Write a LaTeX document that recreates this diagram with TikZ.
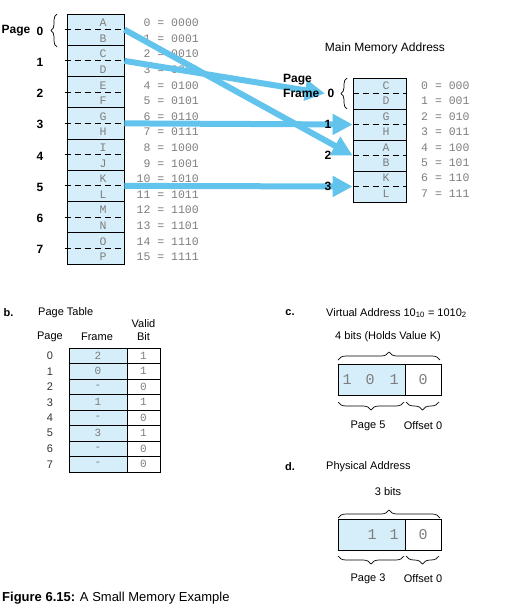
\documentclass[tikz,border=0pt]{standalone}
\usepackage{fontspec}
\setmainfont{Liberation Sans}
\setmonofont{Liberation Mono}
\usetikzlibrary{arrows.meta,decorations.pathreplacing}
\definecolor{memfill}{RGB}{214,238,250}
\definecolor{arrowblue}{RGB}{98,196,236}
\definecolor{addrgray}{RGB}{125,125,125}
\begin{document}
\begin{tikzpicture}[x=1pt,y=-1pt,
  every node/.style={inner sep=0pt},
  pagebox/.style={draw, line width=0.8pt, fill=memfill, minimum width=57pt, minimum height=31.25pt},
  framebox/.style={draw, line width=0.8pt, fill=memfill, minimum width=53pt, minimum height=31pt},
  halfline/.style={line width=0.8pt, dash pattern=on 6pt off 4pt},
  letter/.style={font=\fontsize{11.5}{12}\ttfamily, text=addrgray},
  addr/.style={font=\fontsize{11.5}{12}\ttfamily, text=addrgray, anchor=west},
  pagenum/.style={font=\fontsize{12}{14}\bfseries},
  label/.style={font=\fontsize{11}{13}\selectfont},
  part/.style={font=\fontsize{11}{13}\bfseries},
  maparrow/.style={draw=arrowblue, line width=6pt, -{Triangle[length=20pt,width=20pt]}},
  brace/.style={line width=0.7pt, decorate, decoration={brace, amplitude=#1}},
  cell/.style={draw, line width=0.8pt, minimum height=15.5pt, font=\fontsize{11}{12}\ttfamily, text=addrgray},
  bitbox/.style={draw, line width=0.8pt, minimum height=31pt},
  bit/.style={font=\fontsize{15}{16}\ttfamily, text=addrgray}]
  \useasboundingbox (0,0) rectangle (517,605);

  %% virtual memory, 8 pages of 2 words
  \foreach \i in {0,...,7} {
    \node[pagebox] (p\i) at (95.5,29.625+31.25*\i) {};
    \draw[halfline] ([xshift=-2pt]p\i.west) -- (p\i.east);
    \node[pagenum] (pn\i) at (40,31+31.25*\i) {\i};
  }
  \node[pagenum, anchor=east] (pagetxt) at ([xshift=-6pt]pn0.west) {Page};
  \draw[brace=6pt] (57,47) -- (57,14);

  \foreach \l [count=\k from 0] in {A,B,C,D,E,F,G,H,I,J,K,L,M,N,O,P}
    \node[letter] (v\k) at (103,23+15.6*\k) {\l};

  \foreach \n/\b in {0/0000,1/0001,2/0010,3/0011,4/0100,5/0101,6/0110,7/0111,
                     8/1000,9/1001,10/1010,11/1011,12/1100,13/1101,14/1110,15/1111}
    \node[addr] (va\n) at (136.5,23+15.6*\n) {\makebox[13.8pt][r]{\n} = \b};

  %% main memory, 4 frames
  \node[label, font=\fontsize{12}{14}\selectfont] (mmtitle) at (385,48) {Main Memory Address};
  \foreach \i in {0,...,3} {
    \node[framebox] (f\i) at (379.5,93.5+31*\i) {};
    \draw[halfline] (f\i.west) -- (f\i.east);
  }
  \foreach \l [count=\k from 0] in {C,D,G,H,A,B,K,L}
    \node[letter] (m\k) at (386,85.5+15.45*\k) {\l};
  \foreach \n/\b in {0/000,1/001,2/010,3/011,4/100,5/101,6/110,7/111}
    \node[addr] (ma\n) at (421,85.5+15.45*\n) {\n{} = \b};

  %% mapping arrows
  \coordinate (f0in) at (325,93.5);
  \draw[maparrow] (p0.east) -- (f2.west);
  \draw[maparrow] (p1.east) -- (f0in);
  \draw[maparrow] (p3.east) -- (f1.west);
  \draw[maparrow] (p5.east) -- (f3.west);

  \node[pagenum, anchor=west] (pf1) at (283,80) {Page};
  \node[pagenum, anchor=west] (pf2) at (283,93.5) {Frame};
  \node[pagenum] (fn0) at (331,93.5) {0};
  \draw[brace=6pt] (347,109) -- (347,78);
  \node[pagenum] (fn1) at (328,124.5) {1};
  \node[pagenum] (fn2) at (328,155.5) {2};
  \node[pagenum] (fn3) at (328,186.5) {3};

  %% b. page table
  \node[part] (lb) at (8.5,313) {b.};
  \node[label, anchor=west] (pttitle) at (38,313) {Page Table};
  \node[label] (hpage) at (50,337) {Page};
  \node[label] (hframe) at (97,337) {Frame};
  \node[label] (hvalid) at (143.5,324) {Valid};
  \node[label] (hbit) at (143.5,336.5) {Bit};
  \foreach \f/\v [count=\k from 0] in {2/1,0/1,-/0,1/1,-/0,3/1,-/0,-/0} {
    \node[cell, fill=memfill, minimum width=58pt] (fr\k) at (98,355.75+15.5*\k) {\f};
    \node[cell, minimum width=33pt] (vb\k) at (143.5,355.75+15.5*\k) {\v};
    \node[label, text=black!80] (pg\k) at (50,355.75+15.5*\k) {\k};
  }

  %% c. virtual address
  \node[part] (lc) at (290,313) {c.};
  \node[label, anchor=west] (vatitle) at (326,313) {Virtual Address 10\textsubscript{10} = 1010\textsubscript{2}};
  \node[label] (vabits) at (388,337) {4 bits (Holds Value K)};
  \draw[brace=8pt] (338,360) -- (440,360);
  \node[bitbox, fill=memfill, minimum width=67pt] (vpage) at (371.5,379.5) {};
  \node[bitbox, minimum width=36pt] (voff) at (423,379.5) {};
  \foreach \d/\x in {1/347,0/370,1/394,0/423}
    \node[bit] at (\x,380) {\d};
  \draw[brace=8pt] (404,402) -- (338,402);
  \draw[brace=8pt] (439,402) -- (406,402);
  \node[label] (vpl) at (368,426) {Page 5};
  \node[label] (vol) at (423,426) {Offset 0};

  %% d. physical address
  \node[part] (ld) at (290,467) {d.};
  \node[label, anchor=west] (patitle) at (326,467) {Physical Address};
  \node[label] (pabits) at (388,492) {3 bits};
  \draw[brace=8pt] (338,518) -- (440,518);
  \node[bitbox, fill=memfill, minimum width=67pt] (ppage) at (371.5,534.5) {};
  \node[bitbox, minimum width=36pt] (poff) at (423,534.5) {};
  \foreach \d/\x in {1/372,1/394,0/423}
    \node[bit] at (\x,535) {\d};
  \draw[brace=8pt] (404,556) -- (338,556);
  \draw[brace=8pt] (439,556) -- (406,556);
  \node[label] (ppl) at (368,579) {Page 3};
  \node[label] (pol) at (423,579) {Offset 0};

  %% caption
  \node[anchor=west, font=\fontsize{13}{15}\selectfont] (caption) at (2,598)
    {\textbf{Figure 6.15:} A Small Memory Example};
\end{tikzpicture}
\end{document}
